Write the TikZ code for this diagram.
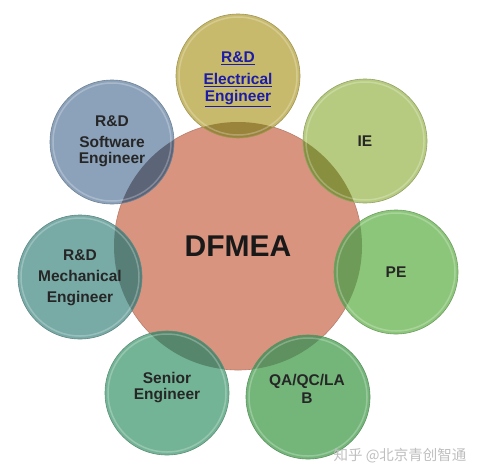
\documentclass[tikz,border=0pt]{standalone}
\usepackage{fontspec}
\setmainfont{Liberation Sans}
\newfontfamily\cjk{Noto Sans CJK SC}
\definecolor{cCenter}{HTML}{D8947F}
\definecolor{cElec}{HTML}{C8BA6C}
\definecolor{cIE}{HTML}{B6CB80}
\definecolor{cPE}{HTML}{8CC67A}
\definecolor{cQA}{HTML}{74B67A}
\definecolor{cSen}{HTML}{74B496}
\definecolor{cMech}{HTML}{78AAA6}
\definecolor{cSoft}{HTML}{8CA2BA}
\definecolor{oElec}{HTML}{9A843C}
\definecolor{oIE}{HTML}{889040}
\definecolor{oPE}{HTML}{6E9C58}
\definecolor{oQA}{HTML}{5E9060}
\definecolor{oSen}{HTML}{56876C}
\definecolor{oMech}{HTML}{587E78}
\definecolor{oSoft}{HTML}{5C6478}
\definecolor{linkblue}{HTML}{1C1CA8}
\begin{document}
\begin{tikzpicture}[x=1pt,y=-1pt,
  lbl/.style={inner sep=0pt, align=center,
    font=\bfseries\fontsize{15.5}{17}\selectfont, text=black!85},
  hub/.style={circle, minimum size=248pt, inner sep=0pt, fill=cCenter,
    draw=cCenter!85!black, line width=0.6pt,
    font=\bfseries\fontsize{30}{34}\selectfont, text=black!90}]
\useasboundingbox (0,0) rectangle (478,474);
\fill[white] (0,0) rectangle (478,474);
\node[hub] (c) at (238,246) {DFMEA};
\foreach \n/\x/\y/\f/\o in {elec/238/76/cElec/oElec, ie/365/141/cIE/oIE, pe/396/272/cPE/oPE,
  qa/308/397/cQA/oQA, sen/167/393/cSen/oSen, mech/80/277/cMech/oMech, soft/112/142/cSoft/oSoft}{
  \fill[\f] (\x,\y) circle (62);
  \begin{scope}
    \clip (238,246) circle (124);
    \fill[\o] (\x,\y) circle (62);
  \end{scope}
  \draw[\f!80!black, line width=0.6pt] (\x,\y) circle (62);
  \draw[white, opacity=0.25, line width=1.5pt] (\x,\y) circle (59);
}
\node[lbl, text=linkblue] (elec) at (238,79) {\underline{R\&D}\\[5pt]\underline{Electrical}\\[0pt]\underline{Engineer}};
\node[lbl] (ie) at (365,141) {IE};
\node[lbl] (pe) at (396,272) {PE};
\node[lbl] (qa) at (307,389) {QA/QC/LA\\[1pt]B};
\node[lbl] (sen) at (167,388) {Senior\\[-1pt]Engineer};
\node[lbl] (mech) at (80,278) {R\&D\\[4pt]Mechanical\\[4pt]Engineer};
\node[lbl] (soft) at (112,141) {R\&D\\[4pt]Software\\[-1pt]Engineer};
\node[font=\cjk\fontsize{14.5}{16}\selectfont, text=black!25] (wm) at (400,456) {知乎 @北京青创智通};
\end{tikzpicture}
\end{document}
